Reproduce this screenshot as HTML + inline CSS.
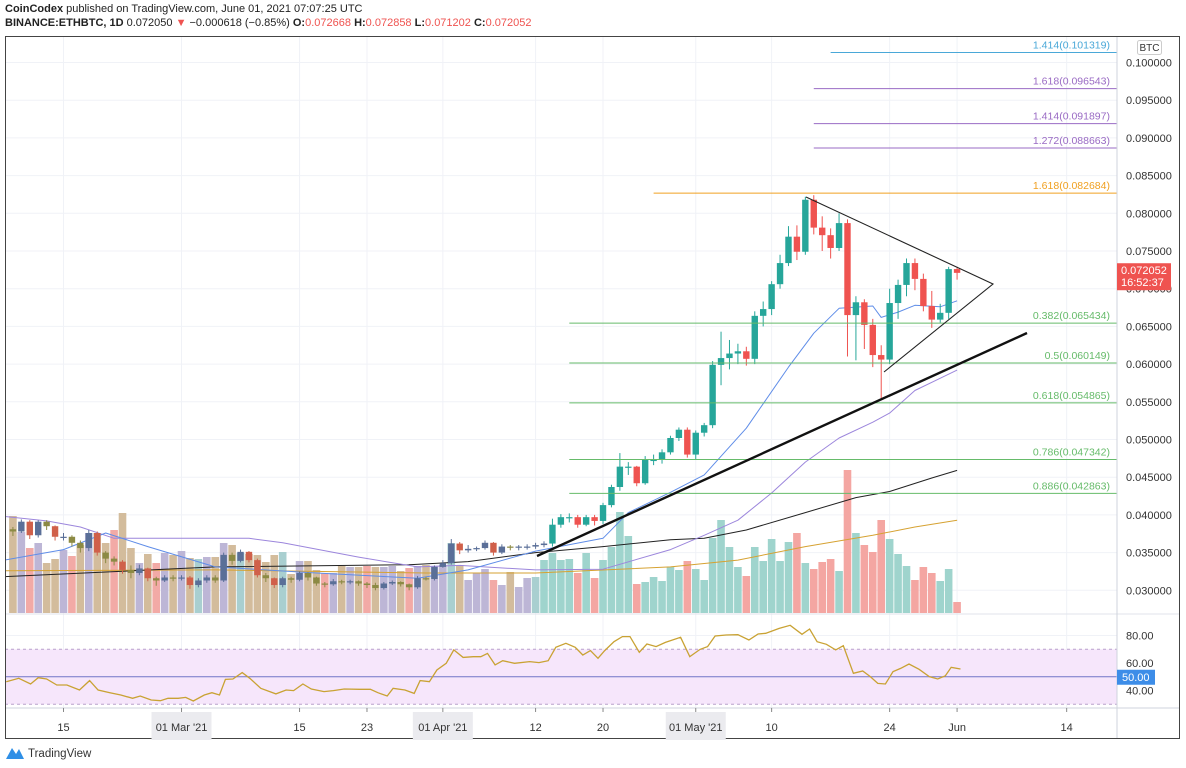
<!DOCTYPE html>
<html><head><meta charset="utf-8"><style>
html,body{margin:0;padding:0;background:#fff;width:1186px;height:768px;overflow:hidden;font-family:"Liberation Sans",sans-serif;}
#hdr1{position:absolute;left:5px;top:3px;font-size:11px;color:#222;}
#hdr2{position:absolute;left:5px;top:17px;font-size:11px;color:#222;}
.r{color:#ef5350}
svg{position:absolute;left:0;top:0}
</style></head><body>
<div id="hdr1"><b>CoinCodex</b> published on TradingView.com, June 01, 2021 07:07:25 UTC</div>
<div id="hdr2"><b>BINANCE:ETHBTC, 1D</b> 0.072050 <span class="r">▼</span> −0.000618 (−0.85%) <b>O:</b><span class="r">0.072668</span> <b>H:</b><span class="r">0.072858</span> <b>L:</b><span class="r">0.071202</span> <b>C:</b><span class="r">0.072052</span></div>
<svg id="chart" width="1186" height="768"></svg>
<script>
// day index 0 = Feb 15 2021; candles start Feb 9 (day -6)
const firstDay = -6;
const firstOpen = 0.0381;
const closes = [
.0378,.0391,.0373,.0391,.0385,.0371,.0371,.0363,.0356,.0376,
.0350,.0342,.0338,.0327,.0323,.0329,.0316,.0313,.0317,.0316,
.0317,.0307,.0313,.0317,.0313,.0347,.0339,.0351,.0340,.0320,
.0316,.0307,.0316,.0314,.0323,.0317,.0309,.0308,.0312,.0311,
.0312,.0309,.0307,.0303,.0309,.0311,.0308,.0304,.0316,.0315,
.0331,.0336,.0362,.0353,.0355,.0356,.0363,.0350,.0358,.0357,
.0358,.0358,.0360,.0362,.0387,.0397,.0397,.0387,.0397,.0392,
.0413,.0437,.0464,.0464,.0442,.0473,.0473,.0483,.0502,.0513,
.0480,.0509,.0519,.0599,.0608,.0614,.0617,.0607,.0664,.0673,
.0706,.0734,.0769,.0749,.0818,.0781,.0771,.0754,.0787,.0665,
.0682,.0652,.0612,.0606,.0681,.0705,.0734,.0713,.0677,.0659,
.0668,.0726,.0721];
const highs = [
.0384,.0394,.0393,.0393,.0393,.0386,.0376,.0373,.0366,.0380,
.0378,.0352,.0345,.0340,.0333,.0334,.0330,.0318,.0320,.0320,
.0320,.0319,.0316,.0320,.0320,.0350,.0350,.0354,.0352,.0342,
.0323,.0317,.0318,.0318,.0325,.0324,.0318,.0311,.0315,.0314,
.0314,.0313,.0311,.0310,.0311,.0313,.0312,.0309,.0319,.0318,
.0333,.0340,.0368,.0364,.0360,.0358,.0366,.0364,.0361,.0360,
.0360,.0361,.0363,.0365,.0395,.0401,.0402,.0400,.0400,.0400,
.0416,.0440,.0482,.0470,.0465,.0478,.0480,.0487,.0505,.0516,
.0516,.0512,.0522,.0604,.0643,.0632,.0627,.0623,.0670,.0683,
.0710,.0745,.0783,.0784,.0822,.0824,.0796,.0780,.0800,.0792,
.0690,.0686,.0660,.0625,.0700,.0712,.0740,.0740,.0720,.0697,
.0680,.0729,.0729];
const lows = [
.0372,.0376,.0368,.0370,.0380,.0366,.0366,.0358,.0350,.0352,
.0346,.0336,.0333,.0322,.0316,.0320,.0312,.0306,.0311,.0312,
.0313,.0302,.0304,.0310,.0310,.0311,.0334,.0337,.0337,.0317,
.0311,.0303,.0304,.0310,.0312,.0313,.0306,.0304,.0306,.0308,
.0308,.0306,.0303,.0300,.0301,.0307,.0305,.0300,.0302,.0313,
.0313,.0330,.0334,.0348,.0350,.0352,.0354,.0346,.0348,.0353,
.0353,.0354,.0355,.0357,.0358,.0383,.0390,.0383,.0385,.0386,
.0388,.0410,.0432,.0453,.0438,.0440,.0466,.0468,.0480,.0498,
.0476,.0474,.0504,.0515,.0572,.0593,.0600,.0598,.0600,.0650,
.0665,.0700,.0730,.0738,.0745,.0772,.0750,.0740,.0750,.0610,
.0605,.0620,.0596,.0552,.0600,.0660,.0690,.0698,.0670,.0648,
.0655,.0660,.0712];
const volumes = [
97,81,65,70,50,54,63,57,68,80,
80,70,83,100,65,50,59,50,60,58,
62,55,54,56,56,70,68,60,59,58,
51,58,61,39,52,52,43,40,40,47,
46,46,47,46,46,47,42,45,47,48,
47,48,70,48,33,40,44,33,28,41,
26,35,36,
53,60,53,54,40,60,35,53,66,101,77,29,31,36,32,46,43,52,44,33,
75,93,66,46,37,66,52,74,52,71,80,50,44,51,54,42,143,80,68,61,
93,74,59,47,33,46,40,32,44,11];
const ma20Days = [-7,0,5,10,18,30,42,48,56,64,67,72,76,81,86,89,92,96,97,99,101,104,106];
const ma20Vals = [.0340,.0354,.0376,.0358,.0331,.0323,.0316,.0327,.0352,.0369,.0403,.0430,.0453,.0515,.0596,.0641,.0674,.0677,.0662,.0669,.0678,.0676,.0684];
const ma50Days = [-7,-2,2,6,22,26,35,42,47,56,64,72,76,80,84,88,92,96,98,101,106];
const ma50Vals = [.0398,.0392,.0384,.0369,.0369,.0363,.0344,.0331,.0333,.0327,.0328,.0354,.0373,.0393,.0429,.0470,.0502,.0523,.0535,.0565,.0592];
const ma100Days = [-7,18,41,48,56,64,72,76,81,88,94,98,103,106];
const ma100Vals = [.0318,.0331,.0334,.0338,.0350,.0358,.0367,.0369,.0380,.0403,.0423,.0431,.0449,.0459];
const ma200Days = [-7,18,43,56,72,80,88,96,101,106];
const ma200Vals = [.0326,.0327,.0323,.0323,.0331,.0340,.0358,.0373,.0384,.0393];
const rsiDays = [-6.8,-5.3,-3.9,-3.0,-2.0,-0.8,0.4,1.9,3.1,4.1,5.5,6.8,8.2,9.1,10.4,11.5,12.4,13.6,14.5,15.4,16.7,17.6,18.5,19.2,20.1,21.2,22.1,23.4,25.2,26.4,27.3,28.4,29.4,30.9,32.0,33.3,35.1,36.4,37.3,38.4,39.1,40.5,41.6,42.3,43.4,44.3,45.4,46.3,47.4,48.6,49.5,50.3,51.2,52.1,53.5,55.3,56.4,57.5,58.4,59.6,60.7,61.6,62.5,63.4,64.2,65.3,66.3,67.2,68.3,69.2,70.3,71.4,73.2,74.3,75.5,76.4,77.3,78.6,80.0,81.3,82.4,83.3,84.9,86.2,87.6,88.5,89.4,90.5,91.6,92.5,93.7,94.8,95.7,96.6,97.5,98.4,99.3,100.3,101.5,102.7,103.7,104.6,105.3,106.4];
const rsiVals = [46.4,48.9,44.7,49.3,48.4,44.0,44.0,40.4,47.2,40.4,38.4,36.7,34.3,36.0,33.1,32.6,34.3,34.3,35.0,32.4,36.7,38.4,36.7,48.1,48.4,53.0,48.9,41.6,37.5,40.4,39.9,44.7,41.1,39.2,39.9,41.1,40.9,40.9,38.4,36.0,41.6,40.4,37.9,47.2,46.4,54.9,59.8,69.5,64.1,64.6,64.6,67.0,58.6,61.7,59.8,61.0,60.3,61.7,71.4,74.3,71.4,65.8,69.0,63.4,69.0,75.5,79.2,79.2,67.8,73.8,71.9,75.0,78.7,64.6,69.9,71.9,79.6,80.4,80.6,76.7,81.1,81.6,85.2,87.4,80.9,84.7,75.5,73.6,69.5,72.6,52.5,54.2,50.1,45.2,44.7,53.7,56.1,59.3,55.4,50.1,48.4,50.6,56.9,55.6];
const priceTicks = [0.100,0.095,0.090,0.085,0.080,0.075,0.070,0.065,0.060,0.055,0.050,0.045,0.040,0.035,0.030];
const rsiTicks = [80,60,40];
const xLabels = ["15","01 Mar '21","15","23","01 Apr '21","12","20","01 May '21","10","24","Jun","14"];
const xLabelDays = [0,14,28,36,45,56,64,75,84,98,106,119];
const fibLevels = ["1.414","1.618","1.414","1.272","1.618","0.382","0.5","0.618","0.786","0.886"];
const fibPrices = [0.101319,0.096543,0.091897,0.088663,0.082684,0.065434,0.060149,0.054865,0.047342,0.042863];
const fibStartDays = [91,89,89,89,70,60,60,60,60,60];
const fibColors = ["#4aa8d8","#9a6bc4","#9a6bc4","#9a6bc4","#f0a020","#66bb6a","#66bb6a","#66bb6a","#66bb6a","#66bb6a"];
const lastPrice = 0.072052;

const NS="http://www.w3.org/2000/svg";
const svg=document.getElementById('chart');
const L=5,R=1117,PT=36,PB=614,RB=708,BOT=738;
const X=d=>63.5+d*8.43;
const Y=p=>62.5+(0.1-p)/0.005*37.7;
const VY=v=>613-v*1.0;
const RY=v=>663-(v-60)*1.375;
function el(tag,attrs,parent){const e=document.createElementNS(NS,tag);for(const k in attrs)e.setAttribute(k,attrs[k]);(parent||svg).appendChild(e);return e;}
const defs=el('defs',{});
const cp=el('clipPath',{id:'cp'},defs);el('rect',{x:L,y:PT,width:R-L,height:PB-PT},cp);
const cr=el('clipPath',{id:'cr'},defs);el('rect',{x:L,y:PB,width:R-L,height:RB-PB},cr);
const grid=el('g',{stroke:'#f0f2f7','stroke-width':1});


xLabelDays.forEach(d=>{el('line',{x1:X(d),x2:X(d),y1:PT,y2:RB},grid);});
priceTicks.forEach(p=>{el('line',{x1:L,x2:R,y1:Y(p),y2:Y(p)},grid);});
rsiTicks.forEach(v=>{el('line',{x1:L,x2:R,y1:RY(v),y2:RY(v)},grid);});
const pg=el('g',{'clip-path':'url(#cp)'});
const vg=el('g',{},pg);


closes.forEach((c,i)=>{
  const o=i===0?firstOpen:closes[i-1];const d=firstDay+i;const up=c>=o;
  let col;
  if(d<57) col= up?'#bdb6d6':'#d3bc9c'; else col= up?'#9fd4cd':'#f4a6a2';
  if(d<57 && i%5===2) col= up?'#a9cfd0':'#f2aaa6';
  const b=el('rect',{x:X(d)-3.8,y:VY(volumes[i]),width:7.6,height:613-VY(volumes[i]),fill:col},vg);
  
  
});
function maLine(days,vals,color,w,name){
  const pts=days.map((d,i)=>X(d).toFixed(1)+','+Y(vals[i]).toFixed(1)).join(' ');
  const p=el('polyline',{points:pts,fill:'none',stroke:color,'stroke-width':w,'stroke-linejoin':'round'},pg);
  
  
}
maLine(ma200Days,ma200Vals,'#d6a232',1,'ma200-line');
maLine(ma100Days,ma100Vals,'#222',1,'ma100-line');
maLine(ma50Days,ma50Vals,'#9c86dc',1,'ma50-line');
maLine(ma20Days,ma20Vals,'#5f8de8',1,'ma20-line');
const cg=el('g',{},pg);


closes.forEach((c,i)=>{
  const o=i===0?firstOpen:closes[i-1];const d=firstDay+i;const up=c>=o;
  let col; if(d<58) col= up?'#5a6f98':'#8c8a44'; else col= up?'#26a69a':'#ef5350';
  if(d<58 && !up && (c<o-0.0008)) col='#d0604a';
  const g=el('g',{},cg);
  
  
  el('line',{x1:X(d),x2:X(d),y1:Y(highs[i]),y2:Y(lows[i]),stroke:col,'stroke-width':1},g);
  const t=Y(Math.max(o,c)),bt=Y(Math.min(o,c));
  el('rect',{x:X(d)-3.2,y:t,width:6.4,height:Math.max(1.2,bt-t),fill:col},g);
});
fibPrices.forEach((p,i)=>{
  const ln=el('line',{x1:X(fibStartDays[i]),x2:R,y1:Y(p),y2:Y(p),stroke:fibColors[i],'stroke-width':1});
  
  
  const t=el('text',{x:1110,y:Y(p)-4,'text-anchor':'end','font-size':10.5,fill:fibColors[i]});
  t.textContent=fibLevels[i]+'('+p.toFixed(6)+')';
  
  
});
const tl=el('line',{x1:537,y1:556,x2:1027,y2:333,stroke:'#111','stroke-width':2.4});


const tri=el('polyline',{points:'806,197 993,284 884,372',fill:'none',stroke:'#222','stroke-width':1.1});


const rg=el('g',{'clip-path':'url(#cr)'});


el('rect',{x:L,y:RY(70),width:R-L,height:RY(30)-RY(70),fill:'#f6e6fb'},rg);
el('line',{x1:L,x2:R,y1:RY(70),y2:RY(70),stroke:'#b9a0cc','stroke-dasharray':'3,3'},rg);
el('line',{x1:L,x2:R,y1:RY(30),y2:RY(30),stroke:'#b9a0cc','stroke-dasharray':'3,3'},rg);
const mid=el('line',{x1:L,x2:R,y1:RY(50),y2:RY(50),stroke:'#7075c8','stroke-width':1},rg);


const rl=el('polyline',{points:rsiDays.map((d,i)=>X(d).toFixed(1)+','+RY(rsiVals[i]).toFixed(1)).join(' '),fill:'none',stroke:'#c9a233','stroke-width':1.3},rg);


el('line',{x1:L,x2:1180,y1:PB,y2:PB,stroke:'#e0e3eb'});
el('line',{x1:L,x2:1180,y1:RB,y2:RB,stroke:'#cfd3dc'});
el('line',{x1:R,x2:R,y1:PT,y2:BOT,stroke:'#cfd3dc'});
const fr=el('rect',{x:L+0.5,y:PT+0.5,width:1174,height:BOT-PT,fill:'none',stroke:'#444','stroke-width':1});


priceTicks.forEach(p=>{
  const t=el('text',{x:1126,y:Y(p)+4,'font-size':11,fill:'#333'});t.textContent=p.toFixed(6);
  
  
});
const bb=el('rect',{x:1137.5,y:40.5,width:24,height:14,rx:2,fill:'#fff',stroke:'#ccc'});


const bt=el('text',{x:1149.5,y:51,'font-size':10,'text-anchor':'middle',fill:'#333'});bt.textContent='BTC';
const pt=el('rect',{x:R,y:Y(lastPrice)-10,width:54,height:27,fill:'#ef5350'});


const p1=el('text',{x:1121,y:Y(lastPrice)+1,'font-size':11,fill:'#fff'});p1.textContent=lastPrice.toFixed(6);
const p2=el('text',{x:1121,y:Y(lastPrice)+13,'font-size':11,fill:'#fff'});p2.textContent='16:52:37';
rsiTicks.forEach(v=>{const t=el('text',{x:1126,y:RY(v)+4,'font-size':11,fill:'#333'});t.textContent=v.toFixed(2);
  
  });
const rb=el('rect',{x:R,y:RY(50)-7,width:38,height:15,fill:'#3d8de8'});


const rt=el('text',{x:1122,y:RY(50)+4,'font-size':11,fill:'#fff'});rt.textContent='50.00';
xLabels.forEach((s,i)=>{
  const x=X(xLabelDays[i]);
  if(s.length>4){const bx=el('rect',{x:x-30,y:RB+4,width:60,height:28,fill:'#ebebef'});}
  el('line',{x1:x,x2:x,y1:RB,y2:RB+4,stroke:'#888'});
  const t=el('text',{x:x,y:RB+23,'font-size':11,'text-anchor':'middle',fill:'#333'});t.textContent=s;
  
  
});
const lg=el('g',{});


el('path',{d:'M6 759 L12 748 L16 754 L19 749 L24 759 Z',fill:'#2f8fe6'},lg);
const lt=el('text',{x:28,y:757,'font-size':11.5,fill:'#333'},lg);lt.textContent='TradingView';
</script>
</body></html>
